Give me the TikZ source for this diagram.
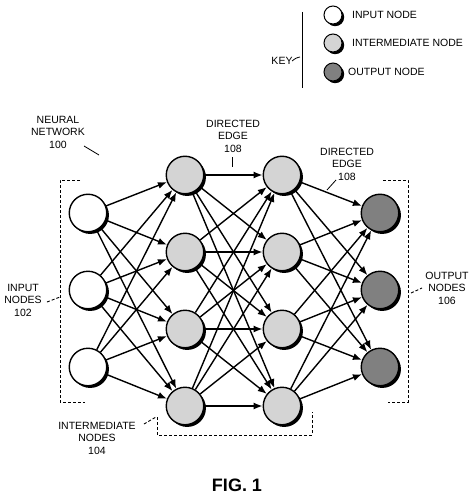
\documentclass[tikz,border=0pt]{standalone}
\usepackage{fontspec}
\setmainfont{Liberation Sans}
\usepackage{tikz}
\usetikzlibrary{positioning}
\usetikzlibrary{arrows.meta,shadows}

\begin{document}
\begin{tikzpicture}[x=1pt, y=-1pt, node distance={77pt},
    main/.style = {draw, circle, inner sep=0pt, minimum size=37.5pt, line width=1.4pt,
        drop shadow={shadow xshift=2.2pt, shadow yshift=-2.2pt, fill=black, opacity=1}},
    inp/.style = {main, fill=white},
    mid/.style = {main, fill=black!17},
    outn/.style = {main, fill=black!50},
    keynode/.style = {main, minimum size=18pt, line width=1pt,
        drop shadow={shadow xshift=1.5pt, shadow yshift=-1.5pt, fill=black, opacity=1}},
    edge/.style = {-{Latex[length=9pt,width=7pt]}, line width=1.4pt},
    bracket/.style = {dash pattern=on 3pt off 2pt, line width=0.9pt},
    lbl/.style = {align=center, font=\fontsize{10.5}{12.5}\selectfont, inner sep=0pt}]
            \useasboundingbox (0,0) rectangle (474,500);
            % Nodes
            \node[inp] (1) at (88,213) {};
            \node[inp] (2) [below of=1] {};
            \node[inp] (3) [below of=2] {};
            \node[mid] (4) at (185,175) {};
            \node[mid] (5) [below of=4] {};
            \node[mid] (6) [below of=5] {};
            \node[mid] (7) [below of=6] {};
            \node[mid] (8) at (282,175) {};
            \node[mid] (9) [below of=8] {};
            \node[mid] (10) [below of=9] {};
            \node[mid] (11) [below of=10] {};
            \node[outn] (12) at (380,213) {};
            \node[outn] (13) [below of=12] {};
            \node[outn] (14) [below of=13] {};
            % Edges
            \draw[edge] (1) -- (4); \draw[edge] (1) -- (5); \draw[edge] (1) -- (6); \draw[edge] (1) -- (7);
            \draw[edge] (2) -- (4); \draw[edge] (2) -- (5); \draw[edge] (2) -- (6); \draw[edge] (2) -- (7);
            \draw[edge] (3) -- (4); \draw[edge] (3) -- (5); \draw[edge] (3) -- (6); \draw[edge] (3) -- (7);
            \draw[edge] (4) -- (8); \draw[edge] (4) -- (9); \draw[edge] (4) -- (10); \draw[edge] (4) -- (11);
            \draw[edge] (5) -- (8); \draw[edge] (5) -- (9); \draw[edge] (5) -- (10); \draw[edge] (5) -- (11);
            \draw[edge] (6) -- (8); \draw[edge] (6) -- (9); \draw[edge] (6) -- (10); \draw[edge] (6) -- (11);
            \draw[edge] (7) -- (8); \draw[edge] (7) -- (9); \draw[edge] (7) -- (10); \draw[edge] (7) -- (11);
            \draw[edge] (8) -- (12); \draw[edge] (8) -- (13); \draw[edge] (8) -- (14);
            \draw[edge] (9) -- (12); \draw[edge] (9) -- (13); \draw[edge] (9) -- (14);
            \draw[edge] (10) -- (12); \draw[edge] (10) -- (13); \draw[edge] (10) -- (14);
            \draw[edge] (11) -- (12); \draw[edge] (11) -- (13); \draw[edge] (11) -- (14);
            % Brackets
            \draw[bracket] (80,180) -- (60,180) -- (60,402) -- (85,402);
            \draw[bracket] (157,417) -- (157,435) -- (312,435) -- (312,412);
            \draw[bracket] (383,180) -- (408,180) -- (408,402) -- (388,402);
            % Labels
            \node[lbl] (net) at (58,132) {NEURAL\\NETWORK\\100};
            \draw[line width=0.8pt] (84,146) -- (99,155);
            \node[lbl] (edge1) at (233,136) {DIRECTED\\EDGE\\108};
            \draw[line width=0.8pt] (232,157) -- (232,167);
            \node[lbl] (edge2) at (347,164) {DIRECTED\\EDGE\\108};
            \draw[line width=0.8pt] (336,180) -- (327,190);
            \node[lbl] (innodes) at (23,300) {INPUT\\NODES\\102};
            \draw[bracket] (47,302) -- (60,297);
            \node[lbl] (midnodes) at (97,438) {INTERMEDIATE\\NODES\\104};
            \draw[bracket] (144,424) -- (156,417);
            \node[lbl] (outnodes) at (447,288) {OUTPUT\\NODES\\106};
            \draw[bracket] (411,293) -- (422,288);
            % Key
            \draw[line width=0.8pt] (302,12) -- (302,88);
            \node[lbl] (key) at (282,61) {KEY};
            \draw[line width=0.8pt] (292,61) .. controls (296,58) .. (300,57);
            \node[keynode, fill=white] (15) at (333,15) {};
            \node[keynode, fill=black!17] (16) at (333,43) {};
            \node[keynode, fill=black!50] (17) at (333,72) {};
            \node[lbl, anchor=west] (t15) at (352,15) {INPUT NODE};
            \node[lbl, anchor=west] (t16) at (352,43) {INTERMEDIATE NODE};
            \node[lbl, anchor=west] (t17) at (348,72) {OUTPUT NODE};
            \node[font=\fontsize{18}{20}\selectfont\bfseries] (fig) at (237,485) {FIG. 1};
\end{tikzpicture}
\end{document}
